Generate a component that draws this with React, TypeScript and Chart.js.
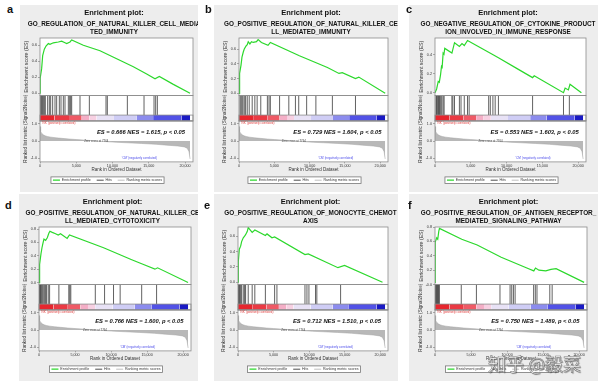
import React, { useEffect, useRef } from 'react';
import { Chart, registerables } from 'chart.js';

Chart.register(...registerables);

const FONT = "Arial, 'Liberation Sans', Helvetica, sans-serif";

// ---------- shared ranked list ----------
const rankAxisMax = 21100;
const rankTicks = [0, 5000, 10000, 15000, 20000];
const zeroCrossRank = 7764;
const metricRanks = [0, 50, 120, 250, 450, 700, 1000, 1500, 2200, 3000, 4000, 5000, 6000, 7000, 7764, 9000, 10500, 12000, 14000, 16000, 17500, 19000, 19900, 20300, 20550, 20700];
const metricScores = [0.85, 0.7, 0.55, 0.45, 0.37, 0.31, 0.27, 0.23, 0.19, 0.16, 0.12, 0.09, 0.06, 0.03, 0, -0.03, -0.07, -0.1, -0.14, -0.19, -0.24, -0.29, -0.34, -0.42, -0.62, -1.05];
const metricTicks = [1.0, 0.5, 0.0, -0.5, -1.0];
const metricMin = -1.22;
const metricMax = 1.18;

const colorBarEdges = [0, 2000, 4000, 5750, 6800, 7800, 10200, 13300, 15600, 19500, 20700];
const colorBarColors = ['#e6262e', '#ea3a44', '#ef5a66', '#f4aec6', '#f7d0e2', '#e8e2f6', '#cfcdf5', '#8c8cee', '#5252e6', '#1a1ac4'];

const legendLabels = ['Enrichment profile', 'Hits', 'Ranking metric scores'];
const legendColors = ['#2cd82c', '#222222', '#b0b0b0'];

// ---------- panels ----------
const panelLetters = ['a', 'b', 'c', 'd', 'e', 'f'];
const titleA = ['GO_REGULATION_OF_NATURAL_KILLER_CELL_MEDIA', 'TED_IMMUNITY'];
const titleB = ['GO_POSITIVE_REGULATION_OF_NATURAL_KILLER_CE', 'LL_MEDIATED_IMMUNITY'];
const titleC = ['GO_NEGATIVE_REGULATION_OF_CYTOKINE_PRODUCT', 'ION_INVOLVED_IN_IMMUNE_RESPONSE'];
const titleD = ['GO_POSITIVE_REGULATION_OF_NATURAL_KILLER_CE', 'LL_MEDIATED_CYTOTOXICITY'];
const titleE = ['GO_POSITIVE_REGULATION_OF_MONOCYTE_CHEMOT', 'AXIS'];
const titleF = ['GO_POSITIVE_REGULATION_OF_ANTIGEN_RECEPTOR_', 'MEDIATED_SIGNALING_PATHWAY'];

const esScoreValues = [0.666, 0.729, 0.553, 0.766, 0.712, 0.75];
const nesValues = [1.615, 1.604, 1.603, 1.6, 1.51, 1.489];
const esAxisMax = [0.69, 0.75, 0.58, 0.83, 0.72, 0.77];

const esRanksA = [0, 30, 230, 368, 598, 828, 1149, 1379, 1839, 2529, 2988, 3448, 3678, 4138, 4368, 5977, 8276, 10575, 12874, 14713, 15862, 16460, 18391, 20690];
const esScoresA = [0, 0.19, 0.31, 0.47, 0.55, 0.59, 0.62, 0.61, 0.63, 0.64, 0.65, 0.63, 0.62, 0.64, 0.666, 0.6, 0.53, 0.43, 0.33, 0.24, 0.18, 0.21, 0.11, 0];
const hitsA = [92, 230, 322, 460, 598, 736, 1057, 1287, 1471, 1747, 2069, 2299, 2667, 2897, 3218, 3448, 3908, 4092, 4230, 4368, 5517, 6805, 9103, 9287, 12046, 14345, 15724, 15954, 16184];

const esRanksB = [0, 30, 140, 280, 421, 607, 748, 981, 1168, 1308, 1542, 1776, 2009, 2477, 2710, 3178, 4112, 4439, 8551, 12523, 14159, 14626, 16495, 16963, 20701];
const esScoresB = [0, 0.12, 0.27, 0.38, 0.49, 0.56, 0.6, 0.64, 0.66, 0.7, 0.67, 0.7, 0.69, 0.7, 0.729, 0.69, 0.65, 0.69, 0.51, 0.35, 0.27, 0.28, 0.2, 0.22, 0];
const hitsB = [140, 280, 421, 561, 748, 935, 1168, 1449, 1869, 2243, 2570, 3084, 4019, 4252, 4439, 5748, 7056, 7991, 8458, 9579, 10888, 13224, 16495];

const esRanksC = [0, 91, 227, 455, 600, 773, 909, 1000, 1136, 1250, 1364, 2364, 2727, 3409, 3773, 4091, 4545, 8182, 8864, 11591, 13636, 13864, 17955, 18182, 18636, 18864, 20455];
const esScoresC = [0, 0, 0.04, 0.12, 0.11, 0.19, 0.28, 0.27, 0.42, 0.41, 0.47, 0.42, 0.53, 0.49, 0.52, 0.5, 0.553, 0.4, 0.37, 0.25, 0.16, 0.18, 0, 0.05, 0.03, 0.09, 0];
const hitsC = [136, 227, 364, 500, 591, 682, 818, 955, 1136, 1273, 2364, 2500, 2727, 3409, 3636, 4091, 4545, 4773, 7500, 7727, 8091, 8409, 8864, 13636, 17955, 18773];

const esRanksD = [0, 30, 138, 276, 414, 552, 690, 920, 1150, 1379, 1517, 1839, 2299, 2667, 2989, 3908, 4230, 8966, 12874, 14253, 16092, 16460, 20690];
const esScoresD = [0, 0.09, 0.27, 0.43, 0.52, 0.59, 0.65, 0.63, 0.67, 0.74, 0.766, 0.75, 0.73, 0.71, 0.73, 0.66, 0.71, 0.52, 0.34, 0.28, 0.2, 0.22, 0];
const hitsD = [46, 138, 230, 322, 460, 598, 782, 920, 1057, 1287, 1471, 2759, 4138, 4276, 4414, 7816, 9103, 10345, 11264, 14253, 16322];

const esRanksE = [0, 46, 186, 371, 510, 742, 928, 1067, 1299, 1439, 1995, 2367, 3852, 4084, 4780, 5151, 9420, 9884, 14060, 14988, 20325];
const esScoresE = [0, 0.27, 0.43, 0.47, 0.53, 0.58, 0.6, 0.62, 0.66, 0.712, 0.65, 0.68, 0.61, 0.63, 0.58, 0.59, 0.36, 0.37, 0.19, 0.22, 0];
const hitsE = [46, 139, 232, 371, 510, 742, 928, 1067, 1439, 1995, 2367, 3852, 5151, 5476, 9420, 9698, 9977, 10905, 11090, 14432];

const esRanksF = [0, 20, 48, 238, 381, 524, 619, 3714, 5857, 9190, 13000, 13714, 13952, 14429, 15381, 16095, 16810, 20700];
const esScoresF = [0, 0.37, 0.56, 0.62, 0.6, 0.71, 0.75, 0.6, 0.52, 0.35, 0.19, 0.16, 0.2, 0.17, 0.16, 0.18, 0.19, 0];
const hitsF = [47, 140, 234, 327, 421, 514, 607, 3645, 5748, 9019, 10421, 10654, 10888, 11121, 13692, 13925, 14159, 15935, 16262];

const panelTitles = [titleA, titleB, titleC, titleD, titleE, titleF];
const panelEsRanks = [esRanksA, esRanksB, esRanksC, esRanksD, esRanksE, esRanksF];
const panelEsScores = [esScoresA, esScoresB, esScoresC, esScoresD, esScoresE, esScoresF];
const panelHits = [hitsA, hitsB, hitsC, hitsD, hitsE, hitsF];

// ---------- layout (positions only) ----------
const layoutBoxes = [
  { left: 20, top: 5, width: 178, height: 187, plotLeft: 20, padRight: 5, lx: 7, ly: 4 },
  { left: 214, top: 5, width: 184, height: 187, plotLeft: 25, padRight: 10, lx: 205, ly: 4 },
  { left: 409, top: 5, width: 189, height: 187, plotLeft: 26, padRight: 12, lx: 406, ly: 4 },
  { left: 19, top: 194, width: 179, height: 187, plotLeft: 20, padRight: 7, lx: 5, ly: 200 },
  { left: 214, top: 194, width: 184, height: 187, plotLeft: 24, padRight: 10, lx: 204, ly: 200 },
  { left: 409, top: 194, width: 189, height: 187, plotLeft: 26, padRight: 11, lx: 408, ly: 200 },
];
const AXIS_W = 18;
const X_AXIS_H = 10.5;

const gseaDecor = {
  id: 'gseaDecor',
  beforeDraw(chart: any) {
    const { ctx, chartArea: ca } = chart;
    ctx.save();
    ctx.fillStyle = '#ededed';
    ctx.fillRect(0, 0, chart.width, chart.height);
    ctx.fillStyle = '#ffffff';
    ['yes', 'yh', 'yc', 'ym'].forEach((id) => {
      const s = chart.scales[id];
      ctx.fillRect(ca.left, s.top, ca.right - ca.left, s.bottom - s.top);
    });
    const hb = chart.legend && chart.legend.legendHitBoxes;
    if (hb && hb.length) {
      const x0 = Math.min(...hb.map((h: any) => h.left)) - 2;
      const x1 = Math.max(...hb.map((h: any) => h.left + h.width)) + 2;
      ctx.fillRect(x0, hb[0].top - 1.5, x1 - x0, hb[0].height + 3);
    }
    ctx.restore();
  },
  afterDraw(chart: any, _args: any, opts: any) {
    const { ctx, chartArea: ca } = chart;
    const sc = chart.scales;
    const w = ca.right - ca.left;
    ctx.save();
    ctx.strokeStyle = '#8c8c8c';
    ctx.lineWidth = 0.8;
    ctx.strokeRect(ca.left, sc.yes.top, w, sc.yes.bottom - sc.yes.top);
    ctx.strokeRect(ca.left, sc.yh.top, w, sc.yc.bottom - sc.yh.top);
    ctx.strokeRect(ca.left, sc.yc.top, w, sc.yc.bottom - sc.yc.top);
    ctx.strokeRect(ca.left, sc.ym.top, w, sc.ym.bottom - sc.ym.top);

    const cx = (ca.left + ca.right) / 2 - 2.5;
    ctx.fillStyle = '#111';
    ctx.textAlign = 'center';
    ctx.textBaseline = 'middle';
    ctx.font = `bold 7.5px ${FONT}`;
    ctx.fillText('Enrichment plot:', cx, ca.top - 25);
    ctx.font = `bold 6.4px ${FONT}`;
    ctx.fillText(opts.title[0], cx, ca.top - 14);
    ctx.fillText(opts.title[1], cx, ca.top - 6);

    ctx.font = `italic bold 5.8px ${FONT}`;
    ctx.fillStyle = '#111';
    ctx.fillText(
      `ES = ${opts.es.toFixed(3)} NES = ${opts.nes.toFixed(3)}, p < 0.05`,
      ca.left + 0.66 * w,
      sc.ym.getPixelForValue(0.5)
    );

    ctx.font = `2.9px ${FONT}`;
    ctx.textAlign = 'left';
    ctx.textBaseline = 'top';
    ctx.fillStyle = '#e03c3c';
    ctx.fillText("'NK' (positively correlated)", ca.left + 2, sc.ym.top + 1);
    ctx.textAlign = 'center';
    ctx.textBaseline = 'middle';
    ctx.fillStyle = '#444';
    ctx.fillText(`Zero cross at ${opts.zero}`, sc.x.getPixelForValue(opts.zero), sc.ym.getPixelForValue(0));
    ctx.fillStyle = '#4b4bea';
    ctx.fillText("'CM' (negatively correlated)", sc.x.getPixelForValue(13700), sc.ym.getPixelForValue(-1.0));

    ctx.font = `4.6px ${FONT}`;
    ctx.fillStyle = '#333';
    ctx.translate(sc.yes.left + 1 + 3.1, (sc.yh.top + sc.ym.bottom) / 2);
    ctx.rotate(-Math.PI / 2);
    ctx.fillText('Ranked list metric (Signal2Noise)', 0, 0);
    ctx.restore();

    const hb = chart.legend && chart.legend.legendHitBoxes;
    if (hb && hb.length) {
      const x0 = Math.min(...hb.map((h: any) => h.left)) - 2;
      const x1 = Math.max(...hb.map((h: any) => h.left + h.width)) + 2;
      ctx.save();
      ctx.strokeStyle = '#777';
      ctx.lineWidth = 0.8;
      ctx.strokeRect(x0, hb[0].top - 1.5, x1 - x0, hb[0].height + 3);
      ctx.restore();
    }
  },
};

function GseaPanel({ idx }: { idx: number }) {
  const ref = useRef<HTMLCanvasElement | null>(null);
  const box = layoutBoxes[idx];
  useEffect(() => {
    const esR = panelEsRanks[idx];
    const esS = panelEsScores[idx];
    const hits = panelHits[idx];
    const fixW = (s: any) => {
      s.width = AXIS_W;
    };
    const tickFont = { size: 3.7, family: FONT };
    const datasets: any[] = [
      {
        label: 'Enrichment profile',
        data: esR.map((r, i) => ({ x: r, y: esS[i] })),
        yAxisID: 'yes',
        borderColor: legendColors[0],
        borderWidth: 1.2,
        pointRadius: 0,
        fill: false,
        tension: 0,
      },
      {
        label: 'Hits',
        data: hits.flatMap((h) => [
          { x: h, y: 0 },
          { x: h, y: 1 },
          { x: h, y: null },
        ]),
        yAxisID: 'yh',
        borderColor: '#1e1e1e',
        borderWidth: 0.7,
        pointRadius: 0,
        fill: false,
        spanGaps: false,
      },
      ...colorBarColors.map((c, i) => ({
        label: 'bar' + i,
        data: [
          { x: colorBarEdges[i], y: 1 },
          { x: colorBarEdges[i + 1], y: 1 },
        ],
        yAxisID: 'yc',
        borderWidth: 0.5,
        borderColor: c,
        backgroundColor: c,
        pointRadius: 0,
        fill: 'origin',
      })),
      {
        label: 'Ranking metric scores',
        data: metricRanks.map((r, i) => ({ x: r, y: metricScores[i] })),
        yAxisID: 'ym',
        borderColor: '#a4a4a4',
        backgroundColor: '#b8b8b8',
        borderWidth: 0.5,
        pointRadius: 0,
        fill: 'origin',
      },
    ];
    const hiddenY = {
      type: 'linear',
      position: 'left',
      stack: 'g',
      min: 0,
      max: 1,
      afterFit: fixW,
      ticks: { display: false },
      grid: { display: false },
      border: { display: false },
    };
    const config: any = {
      type: 'line',
      data: { datasets },
      options: {
        responsive: false,
        animation: false,
        events: [],
        layout: { padding: { left: box.plotLeft - AXIS_W, right: box.padRight, top: 33, bottom: 0 } },
        plugins: {
          title: { display: false },
          tooltip: { enabled: false },
          legend: {
            display: true,
            position: 'bottom',
            align: 'center',
            onClick: () => {},
            labels: {
              font: { size: 3.6, family: FONT },
              color: '#333',
              usePointStyle: true,
              pointStyleWidth: 7,
              boxHeight: 3.6,
              padding: 6,
              generateLabels: () =>
                legendLabels.map((t, i) => ({
                  text: t,
                  fillStyle: legendColors[i],
                  strokeStyle: legendColors[i],
                  lineWidth: i === 0 ? 1.2 : 0.8,
                  pointStyle: 'line',
                  hidden: false,
                  datasetIndex: i,
                  fontColor: '#333',
                })),
            },
          },
          gseaDecor: {
            title: panelTitles[idx],
            es: esScoreValues[idx],
            nes: nesValues[idx],
            zero: zeroCrossRank,
          },
        },
        scales: {
          x: {
            type: 'linear',
            min: 0,
            max: rankAxisMax,
            afterFit: (s: any) => {
              s.height = X_AXIS_H;
            },
            afterBuildTicks: (s: any) => {
              s.ticks = rankTicks.map((v) => ({ value: v }));
            },
            ticks: {
              autoSkip: false,
              maxRotation: 0,
              font: tickFont,
              color: '#333',
              padding: 0.5,
              callback: (v: any) => Number(v).toLocaleString('en-US'),
            },
            grid: { drawOnChartArea: false, tickLength: 1.5, color: '#777', lineWidth: 0.6 },
            border: { display: false },
            title: {
              display: true,
              text: 'Rank in Ordered Dataset',
              color: '#333',
              font: { size: 4.5, family: FONT },
              padding: { top: 0, bottom: 0 },
            },
          },
          ym: {
            type: 'linear',
            position: 'left',
            stack: 'g',
            stackWeight: 42,
            min: metricMin,
            max: metricMax,
            afterFit: fixW,
            afterBuildTicks: (s: any) => {
              s.ticks = metricTicks.map((v) => ({ value: v }));
            },
            ticks: {
              font: tickFont,
              color: '#333',
              padding: 1,
              callback: (v: any) => Number(v).toFixed(1),
            },
            grid: { drawOnChartArea: false, tickLength: 2, color: '#777', lineWidth: 0.6 },
            border: { display: false },
          },
          yc: { ...hiddenY, stackWeight: 6 },
          yh: { ...hiddenY, stackWeight: 20 },
          yes: {
            type: 'linear',
            position: 'left',
            stack: 'g',
            stackWeight: 59,
            min: -0.03,
            max: esAxisMax[idx],
            afterFit: fixW,
            ticks: {
              stepSize: 0.1,
              includeBounds: false,
              font: tickFont,
              color: '#333',
              padding: 1,
              callback: (v: any) => Number(v).toFixed(1),
            },
            grid: { drawOnChartArea: false, tickLength: 2, color: '#777', lineWidth: 0.6 },
            border: { display: false },
            title: {
              display: true,
              text: 'Enrichment score (ES)',
              color: '#333',
              font: { size: 5.2, family: FONT },
              padding: { top: 1, bottom: 0 },
            },
          },
        },
      },
      plugins: [gseaDecor],
    };
    const chart = new Chart(ref.current as HTMLCanvasElement, config);
    return () => chart.destroy();
  }, [idx]);
  return (
    <canvas
      ref={ref}
      width={box.width}
      height={box.height}
      style={{ position: 'absolute', left: box.left, top: box.top, width: box.width, height: box.height }}
    />
  );
}

export default function App() {
  return (
    <div
      style={{
        position: 'fixed',
        left: 0,
        top: 0,
        width: 600,
        height: 391,
        background: '#ffffff',
        overflow: 'hidden',
        fontFamily: FONT,
      }}
    >
      {panelLetters.map((l, i) => (
        <GseaPanel key={'p' + l} idx={i} />
      ))}
      {panelLetters.map((l, i) => (
        <div
          key={'l' + l}
          style={{
            position: 'absolute',
            left: layoutBoxes[i].lx,
            top: layoutBoxes[i].ly,
            fontSize: 11,
            lineHeight: '11px',
            fontWeight: 'bold',
            color: '#111',
          }}
        >
          {l}
        </div>
      ))}
      <div
        style={{
          position: 'absolute',
          left: 488,
          top: 354,
          fontSize: 18,
          lineHeight: '18px',
          fontFamily: "'Noto Sans CJK SC', sans-serif",
          color: '#ffffff',
          WebkitTextStroke: '0.6px #777777',
          textShadow: '1px 1px 1px rgba(0,0,0,0.4)',
          whiteSpace: 'nowrap',
        }}
      >
        知乎 @毅菜
      </div>
    </div>
  );
}
